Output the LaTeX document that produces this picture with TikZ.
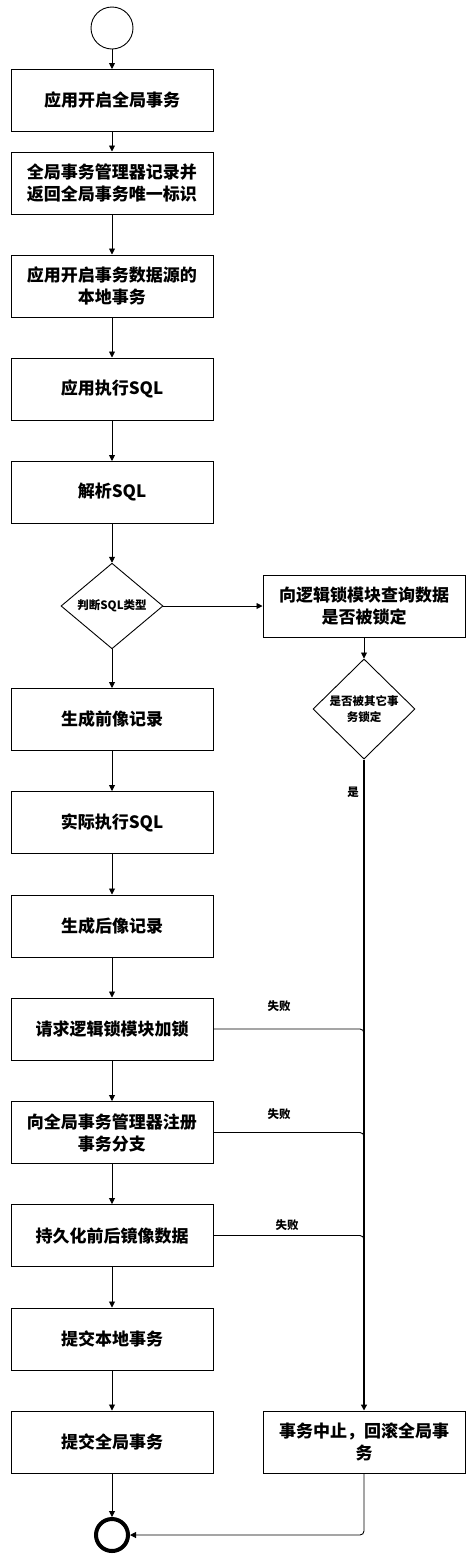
\documentclass[tikz,border=0pt]{standalone}
\usepackage{fontspec}
\setmainfont{Noto Sans CJK SC}
\usetikzlibrary{shapes.geometric,arrows.meta,calc}

\begin{document}
\begin{tikzpicture}[x=1pt,y=-1pt,
  stepbox/.style={draw, line width=1pt, minimum width=202pt, minimum height=62pt, align=center, font=\fontsize{17}{22}\selectfont\bfseries},
  choice/.style={draw, diamond, line width=0.9pt, minimum width=102pt, minimum height=82pt, inner sep=1pt, align=center, font=\fontsize{11.5}{16}\selectfont\bfseries},
  flow/.style={line width=0.9pt, -{Triangle[length=6pt,width=6pt]}},
  note/.style={font=\fontsize{11.5}{13}\selectfont\bfseries}]
\useasboundingbox (0,0) rectangle (474,1564);
% left column
\node[draw, circle, line width=0.9pt, minimum size=42pt] (start) at (112,28) {};
\node[stepbox] (open) at (112,100.5) {应用开启全局事务};
\node[stepbox] (gtm) at (112,183) {全局事务管理器记录并\\返回全局事务唯一标识};
\node[stepbox] (local) at (112,286) {应用开启事务数据源的\\本地事务};
\node[stepbox] (exec) at (112,389) {应用执行SQL};
\node[stepbox] (parse) at (112,492.5) {解析SQL};
\node[choice] (type) at (112,606) {判断SQL类型};
\node[stepbox] (before) at (112,719.5) {生成前像记录};
\node[stepbox] (real) at (112,822.5) {实际执行SQL};
\node[stepbox] (after) at (112,926) {生成后像记录};
\node[stepbox] (lock) at (112,1029) {请求逻辑锁模块加锁};
\node[stepbox] (branch) at (112,1132.5) {向全局事务管理器注册\\事务分支};
\node[stepbox] (persist) at (112,1235.5) {持久化前后镜像数据};
\node[stepbox] (commitl) at (112,1339) {提交本地事务};
\node[stepbox] (commitg) at (112,1442) {提交全局事务};
\node[draw, circle, line width=4pt, minimum size=32pt] (stop) at (112,1535) {};
% right column
\node[stepbox] (query) at (364,606) {向逻辑锁模块查询数据\\是否被锁定};
\node[choice] (locked) at (364,709) {是否被其它事\\务锁定};
\node[stepbox] (abort) at (364,1442) {事务中止，回滚全局事\\务};
% main flow
\draw[flow] (start) -- (open);
\draw[flow] (open) -- (gtm);
\draw[flow] (gtm) -- (local);
\draw[flow] (local) -- (exec);
\draw[flow] (exec) -- (parse);
\draw[flow] (parse) -- (type);
\draw[flow] (type) -- (before);
\draw[flow] (before) -- (real);
\draw[flow] (real) -- (after);
\draw[flow] (after) -- (lock);
\draw[flow] (lock) -- (branch);
\draw[flow] (branch) -- (persist);
\draw[flow] (persist) -- (commitl);
\draw[flow] (commitl) -- (commitg);
\draw[flow] (commitg) -- (stop);
% lock check and failures
\draw[flow] (type) -- (query);
\draw[flow] (query) -- (locked);
\draw[flow, line width=1.3pt] (locked) -- (abort);
\node[note] (yes) at (353,792) {是};
\draw[line width=0.9pt, rounded corners=4pt] (lock.east) -| ($(lock.east -| locked.south)+(0,10)$);
\draw[line width=0.9pt, rounded corners=4pt] (branch.east) -| ($(branch.east -| locked.south)+(0,10)$);
\draw[line width=0.9pt, rounded corners=4pt] (persist.east) -| ($(persist.east -| locked.south)+(0,10)$);
\node[note] (fail1) at (279,1006) {失败};
\node[note] (fail2) at (279,1114) {失败};
\node[note] (fail3) at (287,1225) {失败};
\draw[flow, rounded corners=4pt] (abort.south) |- (stop.east);
\end{tikzpicture}
\end{document}
